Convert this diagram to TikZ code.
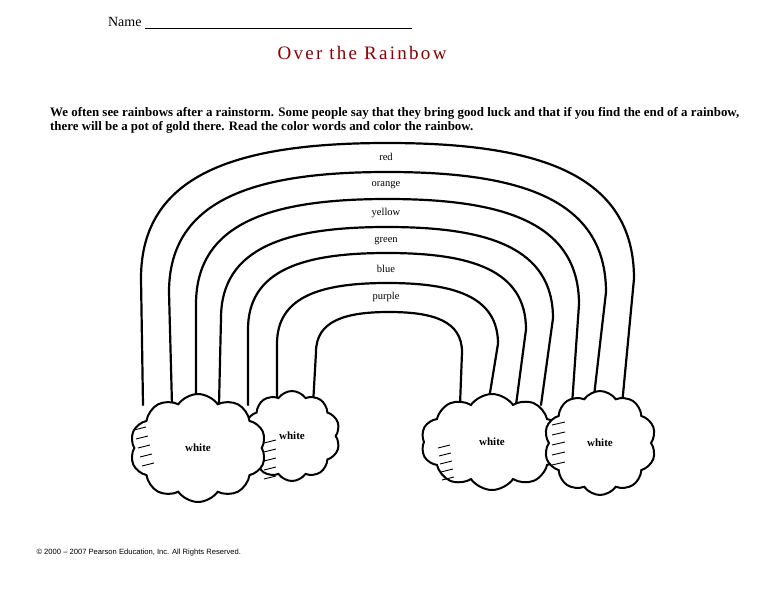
\documentclass[tikz,border=0pt]{standalone}
\usepackage{fontspec}
\setmainfont{Liberation Serif}
\setsansfont{Liberation Sans}
\usetikzlibrary{shapes.symbols}

\tikzset{
  band/.style={line width=2.2pt, line cap=round, line join=round},
  puff/.style={cloud, cloud puffs=10, cloud puff arc=110, draw, line width=2pt, fill=white, font=\fontsize{11}{12}\selectfont\bfseries},
  hatch/.style={line width=0.9pt},
  word/.style={font=\fontsize{10.5}{12}\selectfont}
}

\begin{document}
\begin{tikzpicture}[x=1pt,y=-1pt]

% Page
\useasboundingbox (0,0) rectangle (768,594);
\fill[white] (0,0) rectangle (768,594);

% Heading
\node[font=\fontsize{14}{16}\selectfont, anchor=east] (name) at (145,22) {Name};
\draw[thin] (145,28) -- (412,28);
\node[font=\fontsize{19}{21}\selectfont\addfontfeature{LetterSpace=12}, text=red!55!black] (title) at (362,53) {Over the Rainbow};

% Instructions
\node[anchor=north west, align=left, inner sep=0pt, font=\fontsize{12.9}{14}\selectfont\bfseries] (intro) at (50,107)
  {We often see rainbows after a rainstorm. Some people say that they bring good luck and that if you find the end of a rainbow,\\
   there will be a pot of gold there. Read the color words and color the rainbow.};

% Rainbow arcs
\foreach \xl/\xr/\yt/\xlb/\xrb in {141/634/143/143/622, 169/606/172/172/593, 196/579/199/196/572,
    221/553/227/219/541, 248/526/253/248/516, 277/498/283/277/488, 316/462/312/313/460}{
  \pgfmathsetmacro{\xm}{(\xl+\xr)/2}
  \pgfmathsetmacro{\hw}{(\xr-\xl)/2}
  \pgfmathsetmacro{\ys}{\yt+0.55*\hw}
  \draw[band] (\xlb,405) -- (\xl,\ys) .. controls (\xl,\yt+0.12*\hw) and (\xl+0.4*\hw,\yt) .. (\xm,\yt)
    .. controls (\xr-0.4*\hw,\yt) and (\xr,\yt+0.12*\hw) .. (\xr,\ys) -- (\xrb,405);
}

% Colour words
\foreach \w [count=\i] in {red,orange,yellow,green,blue,purple}
  \node[word] (w\i) at (386,129+28*\i) {\w};

% Clouds
\node[puff, minimum width=96pt, minimum height=90pt] (c2) at (292,436) {white};
\node[puff, minimum width=136pt, minimum height=108pt] (c1) at (198,448) {white};
\node[puff, minimum width=142pt, minimum height=96pt] (c3) at (492,442) {white};
\node[puff, minimum width=112pt, minimum height=104pt] (c4) at (600,443) {white};

% Shading strokes
\foreach \a in {0,...,4}{
  \draw[hatch] (134+\a*2,430+\a*9) -- ++(12,-3);
  \draw[hatch] (264,443+\a*9) -- ++(12,-3);
  \draw[hatch] (438+\a,448+\a*8) -- ++(12,-3);
  \draw[hatch] (552,425+\a*10) -- ++(13,-3);
}

% Footer
\node[anchor=west, font=\sffamily\fontsize{7.6}{9}\selectfont] (copy) at (33,553) {© 2000 – 2007 Pearson Education, Inc. All Rights Reserved.};

\end{tikzpicture}
\end{document}
